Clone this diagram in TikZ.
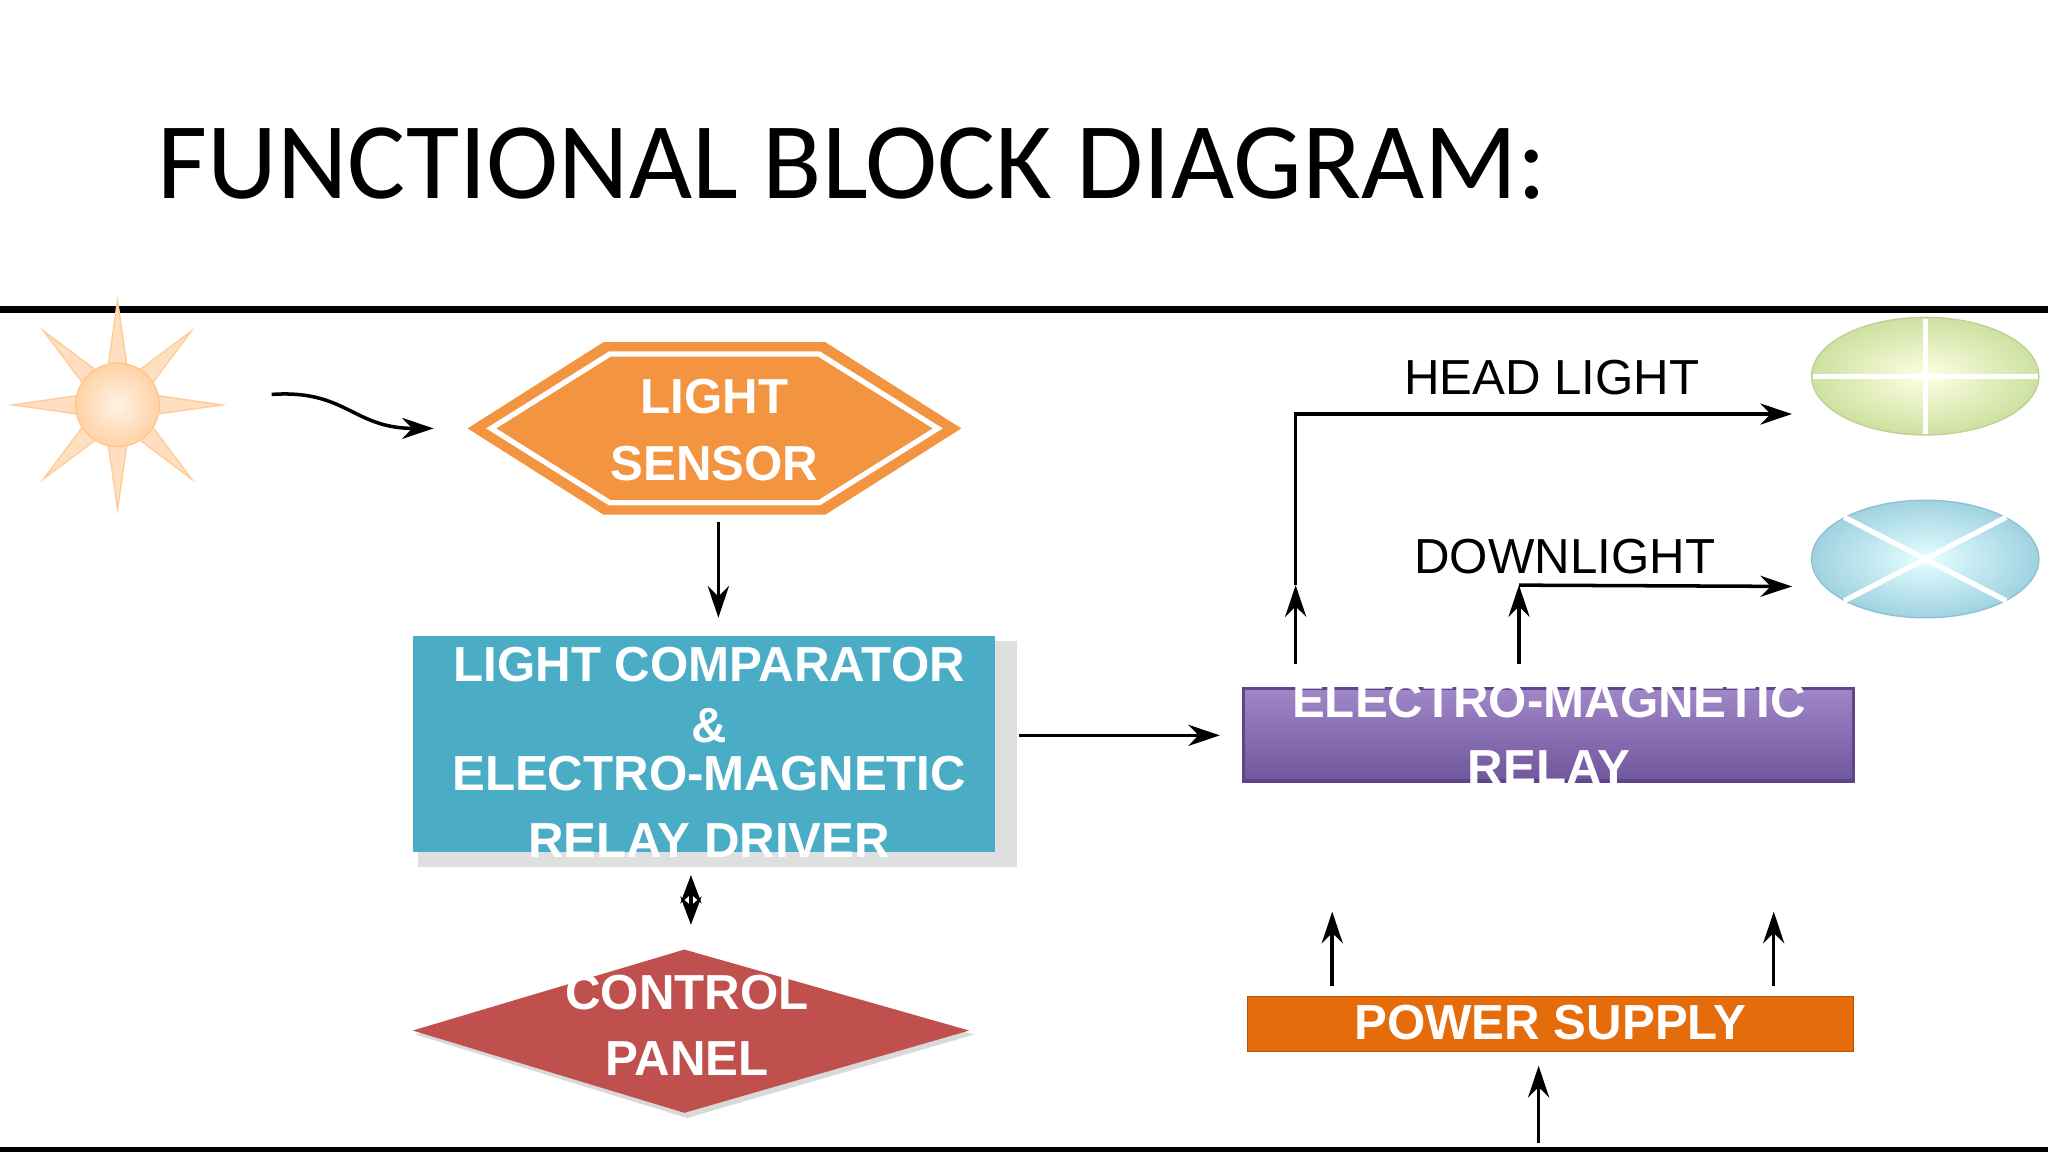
\documentclass[tikz,border=0pt]{standalone}
\usepackage{fontspec}
\setmainfont{Liberation Sans}
\newfontfamily\titlefont{Carlito}
\usetikzlibrary{arrows.meta,shapes.geometric,calc}
\definecolor{hexo}{RGB}{242,148,64}
\definecolor{cmpb}{RGB}{75,172,198}
\definecolor{cpr}{RGB}{192,80,77}
\definecolor{rlt}{RGB}{160,135,200}
\definecolor{rlb}{RGB}{112,86,155}
\definecolor{rld}{RGB}{95,70,140}
\definecolor{pso}{RGB}{228,108,10}
\definecolor{psd}{RGB}{190,80,0}
\definecolor{lg}{RGB}{205,225,160}
\definecolor{lgd}{RGB}{190,210,150}
\definecolor{lb}{RGB}{160,210,225}
\definecolor{lbd}{RGB}{140,195,212}
\begin{document}
\begin{tikzpicture}[x=0.013061cm,y=-0.013061cm,
  lbl/.style={text=white,font=\bfseries\fontsize{14}{19}\selectfont,align=center},
  arr/.style={-{Stealth[length=9pt,width=6pt]},line width=1pt},
  caplbl/.style={font=\fontsize{14}{16}\selectfont}]
\useasboundingbox (0,0) rectangle (1568,882);
\node[anchor=base west,font=\titlefont\fontsize{31}{36}\selectfont,inner sep=0] (title) at (120,152) {FUNCTIONAL BLOCK DIAGRAM:};
\draw[line width=2pt] (0,237) -- (1568,237);
\draw[line width=1.5pt] (0,880) -- (1568,880);
% sun
\coordinate (sun) at (90,310);
\foreach \a in {0,45,...,315}
  \filldraw[fill=orange!25,draw=orange!40] ($(sun)+(\a+14:30)$) -- ($(sun)+(\a:80)$) -- ($(sun)+(\a-14:30)$) -- cycle;
\shade[inner color=orange!10,outer color=orange!35,draw=orange!45] (sun) circle (32);
\coordinate (s1) at (208,302);
\coordinate (s2) at (332,328);
\draw[arr] (s1) .. controls (265,298) and (270,328) .. (s2);
% hexagon
\fill[hexo] (358,328) -- (462,262) -- (632,262) -- (736,328) -- (632,394) -- (462,394) -- cycle;
\draw[white,line width=1.5pt] (376,328) -- (467,271) -- (627,271) -- (718,328) -- (627,385) -- (467,385) -- cycle;
\node[lbl] (ls) at (547,329) {LIGHT\\SENSOR};
% comparator
\fill[gray!25] (320,491) rectangle (779,664);
\fill[cmpb] (316,487) rectangle (762,652);
\node[lbl] (cmp1) at (543,509) {LIGHT COMPARATOR};
\node[lbl] (cmp2) at (543,556) {\&};
\node[lbl] (cmp3) at (543,618) {ELECTRO-MAGNETIC\\RELAY DRIVER};
\coordinate (lsb) at (550,400);
\coordinate (cmt) at (550,473);
\draw[arr] (lsb) -- (cmt);
\coordinate (d1) at (529,670);
\coordinate (d2) at (529,708);
\draw[{Stealth[length=8pt,width=6pt]}-{Stealth[length=8pt,width=6pt]},line width=1.2pt] (d1) -- (d2);
% control panel
\fill[gray!30] (318,792) -- (526,730) -- (746,792) -- (526,856) -- cycle;
\fill[cpr] (316,789) -- (524,727) -- (742,789) -- (524,852) -- cycle;
\node[lbl] (cp) at (526,785) {CONTROL\\PANEL};
% relay
\coordinate (c1) at (780,563);
\coordinate (c2) at (934,563);
\draw[arr] (c1) -- (c2);
\shade[top color=rlt,bottom color=rlb] (952,527) rectangle (1419,598);
\draw[rld,line width=1pt] (952,527) rectangle (1419,598);
\node[lbl] (rel) at (1186,562) {ELECTRO-MAGNETIC\\RELAY};
% outputs
\coordinate (h0) at (992,508);
\coordinate (h1) at (992,448);
\draw[arr] (h0) -- (h1);
\coordinate (h2) at (1372,317);
\draw[arr] (h1) -- (992,317) -- (h2);
\node[caplbl] (hl) at (1188,289) {HEAD LIGHT};
\coordinate (k0) at (1163,508);
\coordinate (k1) at (1163,448);
\draw[arr] (k0) -- (k1);
\coordinate (k2) at (1372,449);
\draw[arr] (k1) -- (k2);
\node[caplbl] (dl) at (1198,426) {DOWNLIGHT};
% lamps
\shade[inner color=yellow!10,outer color=lg,draw=lgd] (1474,288) ellipse (87 and 45);
\draw[white,line width=1.5pt] (1474,244) -- (1474,332) (1388,288) -- (1560,288);
\shade[inner color=cyan!10,outer color=lb,draw=lbd] (1474,428) ellipse (87 and 45);
\draw[white,line width=1.5pt] (1412,396) -- (1536,460) (1412,460) -- (1536,396);
% power supply
\fill[pso] (955,763) rectangle (1419,805);
\draw[psd] (955,763) rectangle (1419,805);
\node[lbl] (ps) at (1187,783) {POWER SUPPLY};
\coordinate (p1) at (1020,755); \coordinate (p1t) at (1020,698);
\coordinate (p2) at (1358,755); \coordinate (p2t) at (1358,698);
\coordinate (p3) at (1178,875); \coordinate (p3t) at (1178,816);
\draw[arr] (p1) -- (p1t);
\draw[arr] (p2) -- (p2t);
\draw[arr] (p3) -- (p3t);
\end{tikzpicture}
\end{document}
